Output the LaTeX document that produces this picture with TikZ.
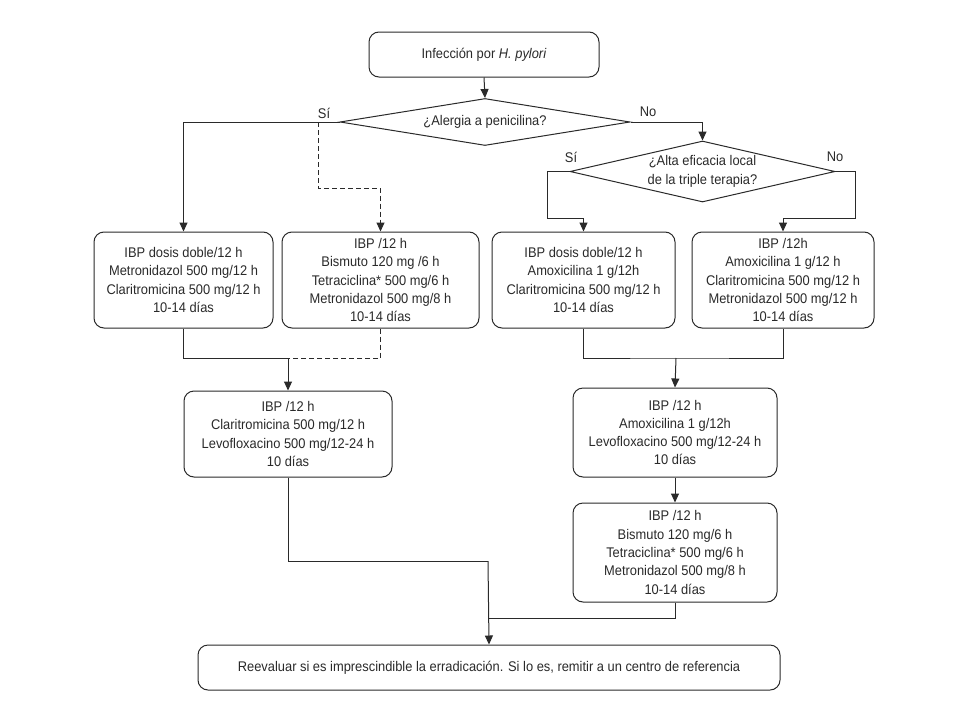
\documentclass[tikz,border=0pt]{standalone}
\usepackage{fontspec}
\setmainfont{Liberation Sans}[FakeStretch=0.92]
\usetikzlibrary{shapes.geometric,arrows.meta}
\definecolor{ink}{HTML}{2A2A2A}
\begin{document}
\begin{tikzpicture}[x=1pt,y=-1pt,
  every node/.style={text=ink,font=\fontsize{14}{18.3}\selectfont},
  box/.style={draw=ink,line width=1pt,rounded corners=10pt,rectangle,align=center,inner sep=0pt},
  dia/.style={draw=ink,line width=1pt,diamond,inner sep=0pt},
  conn/.style={draw=ink,line width=1pt},
  arr/.style={conn,-{Triangle[length=9pt,width=8pt]}},
  dsh/.style={dash pattern=on 5pt off 3pt}]
\useasboundingbox[fill=white] (0,0) rectangle (960,720);
% nodes
\node[box,minimum width=230pt,minimum height=45pt] (top) at (484,54.5) {Infección por \textit{H. pylori}};
\node[dia,minimum width=290pt,minimum height=47pt] (d1) at (485,122) {};
\node (d1t) at (485,122) {¿Alergia a penicilina?};
\node[dia,minimum width=265pt,minimum height=61pt] (d2) at (702.5,171.5) {};
\node[align=center] (d2t) at (702.5,171.5) {¿Alta eficacia local\\de la triple terapia?};
\node (si1) at (324,113) {Sí};
\node (no1) at (648,112) {No};
\node (si2) at (571,157) {Sí};
\node (no2) at (835,157) {No};
\node[box,minimum width=179pt,minimum height=96pt] (b1) at (183.5,280) {IBP dosis doble/12 h\\Metronidazol 500 mg/12 h\\Claritromicina 500 mg/12 h\\10-14 días};
\node[box,minimum width=197pt,minimum height=96pt] (b2) at (380.5,280) {IBP /12 h\\Bismuto 120 mg /6 h\\Tetraciclina* 500 mg/6 h\\Metronidazol 500 mg/8 h\\10-14 días};
\node[box,minimum width=183pt,minimum height=96pt] (b3) at (583.5,280) {IBP dosis doble/12 h\\Amoxicilina 1 g/12h\\Claritromicina 500 mg/12 h\\10-14 días};
\node[box,minimum width=182pt,minimum height=96pt] (b4) at (783,280) {IBP /12h\\Amoxicilina 1 g/12 h\\Claritromicina 500 mg/12 h\\Metronidazol 500 mg/12 h\\10-14 días};
\node[box,minimum width=208pt,minimum height=86pt] (b5) at (288,434) {IBP /12 h\\Claritromicina 500 mg/12 h\\Levofloxacino 500 mg/12-24 h\\10 días};
\node[box,minimum width=204pt,minimum height=89pt] (b6) at (675,432.5) {IBP /12 h\\Amoxicilina 1 g/12h\\Levofloxacino 500 mg/12-24 h\\10 días};
\node[box,minimum width=204pt,minimum height=99pt] (b7) at (675,552.5) {IBP /12 h\\Bismuto 120 mg/6 h\\Tetraciclina* 500 mg/6 h\\Metronidazol 500 mg/8 h\\10-14 días};
\node[box,minimum width=582pt,minimum height=45pt] (fin) at (489,667.5) {Reevaluar si es imprescindible la erradicación. Si lo es, remitir a un centro de referencia};
% junction coordinates
\coordinate (j1) at (288,358);
\coordinate (j2) at (676,358);
\coordinate (j3) at (488,561);
\coordinate (j4) at (488,618);
% connectors
\draw[arr] (top.south) -- (d1.north);
\draw[arr] (d1.west) -| (b1.north);
\draw[arr,dsh] (318,122) -- (318,188) -| (b2.north);
\draw[arr] (d1.east) -| (d2.north);
\draw[arr] (d2.west) -- (547,171.5) -- (547,218) -| (b3.north);
\draw[arr] (d2.east) -- (855,171.5) -- (855,218) -| (b4.north);
\draw[conn] (b1.south) |- (j1);
\draw[conn,dsh] (b2.south) |- (j1);
\draw[arr] (j1) -- (b5.north);
\draw[conn] (b3.south) |- (j2) -| (b4.south);
\draw[arr] (j2) -- (b6.north);
\draw[arr] (b6.south) -- (b7.north);
\draw[conn] (b5.south) |- (j3);
\draw[conn] (b7.south) |- (j4);
\draw[arr] (j3) -- (fin.north);
\end{tikzpicture}
\end{document}
